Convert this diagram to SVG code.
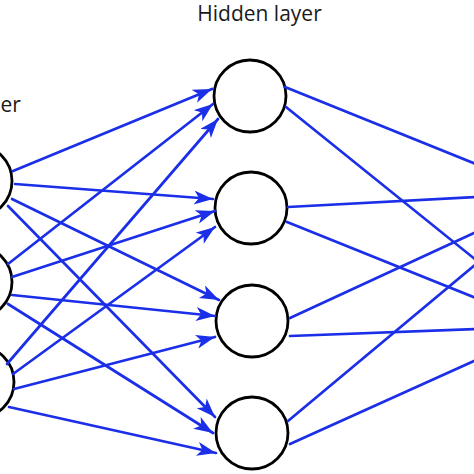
<svg xmlns="http://www.w3.org/2000/svg" width="474" height="474" viewBox="0 0 474 474">
  <style>
    .node { fill: #ffffff; stroke: #000000; stroke-width: 2.8; }
    .edge { stroke: #1b2ee8; stroke-width: 2.7; fill: none; stroke-linecap: round; }
    .arr { marker-end: url(#ah); }
    .label { font-family: "Open Sans", "Noto Sans", "DejaVu Sans", sans-serif; font-size: 21px; fill: #1a1a1a; }
  </style>
  <defs>
    <marker id="ah" markerUnits="userSpaceOnUse" markerWidth="22" markerHeight="16" refX="19" refY="7" orient="auto">
      <path d="M0,0 L19,7 L0,14 L5,7 Z" fill="#1b2ee8"/>
    </marker>
  </defs>
  <rect width="474" height="474" fill="#ffffff"/>

  <text class="label" x="259.5" y="21" text-anchor="middle">Hidden layer</text>
  <text class="label" x="0.5" y="112">er</text>

  <g id="input1"><circle class="node" cx="-24" cy="181" r="36"/></g>
  <g id="input2"><circle class="node" cx="-24" cy="282" r="36"/></g>
  <g id="input3"><circle class="node" cx="-22" cy="382" r="36"/></g>

  <g id="hidden1"><circle class="node" cx="250" cy="96" r="36"/></g>
  <g id="hidden2"><circle class="node" cx="251" cy="208" r="36"/></g>
  <g id="hidden3"><circle class="node" cx="252" cy="321" r="36"/></g>
  <g id="hidden4"><circle class="node" cx="252" cy="433" r="36"/></g>

  <g id="connectors">
    <!-- input 1 -->
    <line class="edge arr" x1="13" y1="171" x2="212" y2="89"/>
    <line class="edge arr" x1="15" y1="184" x2="213" y2="199"/>
    <line class="edge arr" x1="12" y1="199" x2="219" y2="300"/>
    <line class="edge arr" x1="8" y1="206" x2="215" y2="417"/>
    <!-- input 2 -->
    <line class="edge arr" x1="8" y1="264" x2="213" y2="104"/>
    <line class="edge arr" x1="12" y1="277" x2="215" y2="211"/>
    <line class="edge arr" x1="12" y1="295" x2="215" y2="316"/>
    <line class="edge arr" x1="8" y1="304" x2="213" y2="433"/>
    <!-- input 3 -->
    <line class="edge arr" x1="7" y1="364" x2="218" y2="119"/>
    <line class="edge arr" x1="13" y1="374" x2="215" y2="227"/>
    <line class="edge arr" x1="14" y1="389" x2="215" y2="337"/>
    <line class="edge arr" x1="9" y1="407" x2="216" y2="453"/>
    <!-- hidden to output -->
    <line class="edge" x1="285" y1="87" x2="476" y2="164"/>
    <line class="edge" x1="286" y1="107" x2="476" y2="260"/>
    <line class="edge" x1="288" y1="207" x2="476" y2="197"/>
    <line class="edge" x1="287" y1="222" x2="476" y2="298"/>
    <line class="edge" x1="290" y1="318" x2="476" y2="232"/>
    <line class="edge" x1="290" y1="336" x2="476" y2="329"/>
    <line class="edge" x1="288" y1="421" x2="476" y2="264"/>
    <line class="edge" x1="290" y1="444" x2="476" y2="360"/>
  </g>
</svg>
